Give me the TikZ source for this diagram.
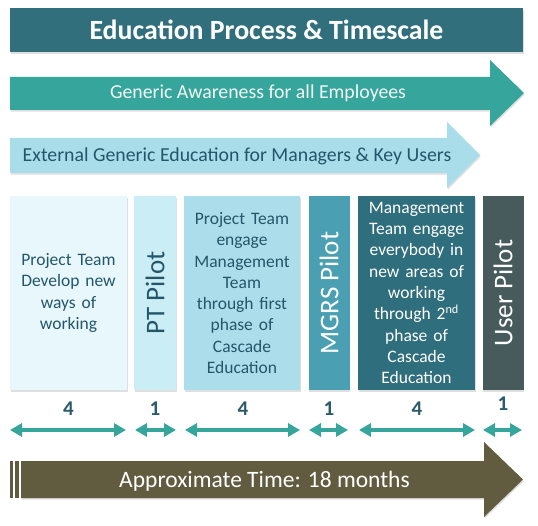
\documentclass[tikz,border=0pt]{standalone}
\usepackage{fontspec}
\setmainfont{Carlito}
\usetikzlibrary{arrows.meta,shadows}
\definecolor{titlec}{HTML}{316F7D}
\definecolor{awarec}{HTML}{36A59B}
\definecolor{extc}{HTML}{A9DDEA}
\definecolor{bA}{HTML}{E8F7FB}
\definecolor{bB}{HTML}{CBEDF5}
\definecolor{bC}{HTML}{ACDDEA}
\definecolor{bD}{HTML}{4AA0B2}
\definecolor{bE}{HTML}{2F6E7C}
\definecolor{bF}{HTML}{475A5C}
\definecolor{darktxt}{HTML}{24566A}
\definecolor{numc}{HTML}{2B5A6B}
\definecolor{brownc}{HTML}{615B3F}
\tikzset{
  shad/.style={drop shadow={opacity=0.25,shadow xshift=0.8pt,shadow yshift=-1.6pt}},
  boxn/.style={rectangle,inner sep=0pt,minimum height=194pt,shad,align=center,
    font=\fontsize{17.5}{21.3}\selectfont},
  rot/.style={rotate=90,font=\fontsize{27}{30}\selectfont,inner sep=0pt},
  num/.style={font=\fontsize{21}{23}\selectfont\bfseries,text=numc,inner sep=0pt},
  dbl/.style={draw=awarec,line width=3.5pt,{Triangle[length=12pt,width=13pt]}-{Triangle[length=12pt,width=13pt]}},
}
\begin{document}
\begin{tikzpicture}[x=1pt,y=-1pt]
\useasboundingbox (0,0) rectangle (538,526);
% title
\node[fill=titlec,minimum width=513pt,minimum height=44pt,inner sep=0pt,shad,
  font=\fontsize{27.8}{30}\selectfont\bfseries,text=white] (title) at (266.5,30) {Education Process \& Timescale};
% awareness arrow
\fill[awarec,shad] (10,77) -- (490,77) -- (490,60) -- (524,93) -- (490,126) -- (490,110) -- (10,110) -- cycle;
\node[font=\fontsize{19.8}{22}\selectfont,text=white!94!awarec,inner sep=0pt] (aware) at (258,93) {Generic Awareness for all Employees};
% external arrow
\fill[extc,shad] (10,138) -- (447,138) -- (447,122) -- (480,155) -- (447,188) -- (447,173) -- (10,173) -- cycle;
\node[font=\fontsize{19.8}{22}\selectfont,text=darktxt,inner sep=0pt] (ext) at (237,156) {External Generic Education for Managers \& Key Users};
% boxes
\node[boxn,fill=bA,minimum width=117pt,text width=114pt,text=darktxt] (p1) at (68.5,293) {Project Team\\Develop new\\ways of\\working};
\node[boxn,fill=bB,minimum width=42pt] (p2) at (155,293) {};
\node[rot,text=darktxt] (p2t) at (p2) {PT Pilot};
\node[boxn,fill=bC,minimum width=116pt,text width=114pt,text=darktxt] (p3) at (242,293) {Project Team\\engage\\Management\\Team\\through first\\phase of\\Cascade\\Education};
\node[boxn,fill=bD,minimum width=41pt] (p4) at (329,293) {};
\node[rot,text=white] (p4t) at (p4) {MGRS Pilot};
\node[boxn,fill=bE,minimum width=117pt,text width=116pt,text=white] (p5) at (416.5,293) {Management\\Team engage\\everybody in\\new areas of\\working\\through 2\textsuperscript{nd}\\phase of\\Cascade\\Education};
\node[boxn,fill=bF,minimum width=41pt] (p6) at (503,293) {};
\node[rot,text=white] (p6t) at (p6) {User Pilot};
% numbers
\node[num] (n1) at (68.5,409) {4};
\node[num] (n2) at (155,409) {1};
\node[num] (n3) at (243,409) {4};
\node[num] (n4) at (329,409) {1};
\node[num] (n5) at (417,409) {4};
\node[num] (n6) at (503,404) {1};
% double arrows
\coordinate (a1l) at (10,430); \coordinate (a1r) at (126,430);
\coordinate (a2l) at (135,430); \coordinate (a2r) at (176,430);
\coordinate (a3l) at (185,430); \coordinate (a3r) at (300,430);
\coordinate (a4l) at (309,430); \coordinate (a4r) at (348,430);
\coordinate (a5l) at (359,430); \coordinate (a5r) at (475,430);
\coordinate (a6l) at (483,430); \coordinate (a6r) at (522,430);
\draw[dbl] (a1l) -- (a1r);
\draw[dbl] (a2l) -- (a2r);
\draw[dbl] (a3l) -- (a3r);
\draw[dbl] (a4l) -- (a4r);
\draw[dbl] (a5l) -- (a5r);
\draw[dbl] (a6l) -- (a6r);
% time arrow
\fill[brownc] (10,461) rectangle (12.5,498);
\fill[brownc] (14.5,461) rectangle (19,498);
\fill[brownc,shad] (21,461) -- (484,461) -- (484,442) -- (523,479.5) -- (484,517) -- (484,498) -- (21,498) -- cycle;
\node[font=\fontsize{23.5}{26}\selectfont,text=white,inner sep=0pt] (time) at (264.5,481) {Approximate Time: 18 months};
\end{tikzpicture}
\end{document}
